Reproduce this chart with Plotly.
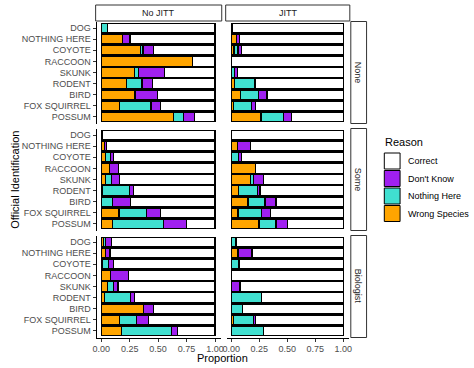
import plotly.graph_objects as go

categories = ["DOG", "NOTHING HERE", "COYOTE", "RACCOON", "SKUNK", "RODENT", "BIRD", "FOX SQUIRREL", "POSSUM"]
conditions = ["No JITT", "JITT"]
expertise = ["None", "Some", "Biologist"]
x_ticks = [0, 0.25, 0.5, 0.75, 1.0]
x_tick_labels = ["0.00", "0.25", "0.50", "0.75", "1.00"]

# None expertise
none_nojitt_wrong = [0, 0.19, 0.345, 0.80, 0.29, 0.222, 0.297, 0.163, 0.633]
none_nojitt_nothing = [0.058, 0, 0.023, 0, 0.041, 0.137, 0, 0.274, 0.09]
none_nojitt_dk = [0, 0.064, 0.093, 0, 0.224, 0.09, 0.195, 0.082, 0.093]
none_jitt_wrong = [0, 0.046, 0.026, 0, 0, 0.032, 0.081, 0.02, 0.267]
none_jitt_nothing = [0.012, 0, 0.035, 0, 0.029, 0.174, 0.16, 0.165, 0.2]
none_jitt_dk = [0, 0.03, 0.029, 0, 0.029, 0.01, 0.078, 0.035, 0.072]
# Some expertise
some_nojitt_wrong = [0, 0.032, 0.038, 0.073, 0.041, 0.015, 0, 0.157, 0.096]
some_nojitt_nothing = [0.015, 0, 0.044, 0, 0.047, 0.236, 0.099, 0.239, 0.452]
some_nojitt_dk = [0, 0.012, 0.029, 0.079, 0.076, 0.035, 0.16, 0.122, 0.204]
some_jitt_wrong = [0, 0.058, 0, 0.214, 0.171, 0.067, 0.151, 0.061, 0.249]
some_jitt_nothing = [0, 0, 0.064, 0, 0.029, 0.171, 0.151, 0.209, 0.151]
some_jitt_dk = [0, 0.113, 0.026, 0, 0.087, 0.02, 0.099, 0.081, 0.104]
# Biologist
bio_nojitt_wrong = [0.02, 0.035, 0.008, 0.084, 0.058, 0.026, 0.371, 0.16, 0.177]
bio_nojitt_nothing = [0.018, 0, 0.058, 0, 0.052, 0.229, 0, 0.15, 0.44]
bio_nojitt_dk = [0.05, 0.043, 0.04, 0.154, 0.038, 0.038, 0.09, 0.107, 0.055]
bio_jitt_wrong = [0, 0.061, 0, 0, 0, 0, 0, 0.02, 0]
bio_jitt_nothing = [0.044, 0, 0.07, 0, 0, 0.27, 0.1, 0.18, 0.286]
bio_jitt_dk = [0, 0.125, 0, 0, 0.079, 0, 0, 0.02, 0]

panels = {
    ("None", "No JITT"): (none_nojitt_wrong, none_nojitt_nothing, none_nojitt_dk),
    ("None", "JITT"): (none_jitt_wrong, none_jitt_nothing, none_jitt_dk),
    ("Some", "No JITT"): (some_nojitt_wrong, some_nojitt_nothing, some_nojitt_dk),
    ("Some", "JITT"): (some_jitt_wrong, some_jitt_nothing, some_jitt_dk),
    ("Biologist", "No JITT"): (bio_nojitt_wrong, bio_nojitt_nothing, bio_nojitt_dk),
    ("Biologist", "JITT"): (bio_jitt_wrong, bio_jitt_nothing, bio_jitt_dk),
}

reasons = ["Wrong Species", "Nothing Here", "Don't Know", "Correct"]
colors = {"Correct": "#FFFFFF", "Don't Know": "#A020F0", "Nothing Here": "#40E0D0", "Wrong Species": "#FFA500"}
legend_order = ["Correct", "Don't Know", "Nothing Here", "Wrong Species"]

W, H = 474, 368
FONT = "Liberation Sans, Arial, sans-serif"

def px_x(p):
    return p / W

def px_y(p):
    return 1 - p / H

col_dom = [(94, 220), (226, 350)]
row_dom = [(21.5, 123.5), (128.5, 230.5), (235.5, 337.5)]

fig = go.Figure()
layout = {}
idx = 0
for r, ex in enumerate(expertise):
    for c, cond in enumerate(conditions):
        idx += 1
        xa = "x" if idx == 1 else f"x{idx}"
        ya = "y" if idx == 1 else f"y{idx}"
        wrong, nothing, dk = panels[(ex, cond)]
        correct = [max(0.0, 1 - a - b - d) for a, b, d in zip(wrong, nothing, dk)]
        vals = {"Wrong Species": wrong, "Nothing Here": nothing, "Don't Know": dk, "Correct": correct}
        for reason in reasons:
            v = [val if val > 0 else None for val in vals[reason]]
            fig.add_trace(go.Bar(
                x=v, y=categories, orientation="h", xaxis=xa, yaxis=ya,
                marker=dict(color=colors[reason], line=dict(color="black", width=1.2)),
                name=reason, showlegend=False, hoverinfo="skip",
            ))
        bottom = (r == len(expertise) - 1)
        left = (c == 0)
        layout["xaxis" if idx == 1 else f"xaxis{idx}"] = dict(
            domain=[px_x(col_dom[c][0]), px_x(col_dom[c][1])],
            anchor=ya, range=[-0.04, 1.05],
            tickvals=x_ticks, ticktext=x_tick_labels,
            showticklabels=bottom, showline=bottom, linecolor="black", linewidth=1,
            ticks="outside" if bottom else "", ticklen=3, tickcolor="#333333",
            showgrid=False, zeroline=False,
            tickfont=dict(family=FONT, size=9, color="#4D4D4D"),
        )
        layout["yaxis" if idx == 1 else f"yaxis{idx}"] = dict(
            domain=[px_y(row_dom[r][1]), px_y(row_dom[r][0])],
            anchor=xa, type="category", categoryorder="array", categoryarray=categories,
            range=[8.6, -0.6],
            showticklabels=left, showline=left, linecolor="black", linewidth=1,
            ticks="outside" if left else "", ticklen=3, tickcolor="#333333",
            showgrid=False, zeroline=False,
            tickfont=dict(family=FONT, size=9, color="#4D4D4D"),
        )

shapes = []
annotations = []
# top strips
for c, cond in enumerate(conditions):
    x0, x1 = col_dom[c]
    shapes.append(dict(type="rect", xref="paper", yref="paper",
                       x0=px_x(x0 - 1), x1=px_x(x1 + 1), y0=px_y(21), y1=px_y(5),
                       line=dict(color="#333333", width=1), fillcolor="white"))
    annotations.append(dict(xref="paper", yref="paper", x=px_x((x0 + x1) / 2), y=px_y(13),
                            text=cond, showarrow=False, xanchor="center", yanchor="middle",
                            font=dict(family=FONT, size=9, color="#1A1A1A")))
# right strips
for r, ex in enumerate(expertise):
    y0, y1 = row_dom[r]
    shapes.append(dict(type="rect", xref="paper", yref="paper",
                       x0=px_x(352), x1=px_x(368), y0=px_y(y1), y1=px_y(y0),
                       line=dict(color="#333333", width=1), fillcolor="white"))
    annotations.append(dict(xref="paper", yref="paper", x=px_x(360), y=px_y((y0 + y1) / 2),
                            text=ex, showarrow=False, textangle=90, xanchor="center", yanchor="middle",
                            font=dict(family=FONT, size=9, color="#1A1A1A")))

# axis titles
annotations.append(dict(xref="paper", yref="paper", x=px_x(222), y=px_y(358), text="Proportion",
                        showarrow=False, xanchor="center", yanchor="middle",
                        font=dict(family=FONT, size=11, color="black")))
annotations.append(dict(xref="paper", yref="paper", x=px_x(11), y=px_y(180), text="Official Identification",
                        showarrow=False, textangle=-90, xanchor="center", yanchor="middle",
                        font=dict(family=FONT, size=11, color="black")))

# legend (drawn manually)
annotations.append(dict(xref="paper", yref="paper", x=px_x(385), y=px_y(142), text="Reason",
                        showarrow=False, xanchor="left", yanchor="middle",
                        font=dict(family=FONT, size=11, color="black")))
for i, name in enumerate(legend_order):
    top = 153 + i * 17.5
    shapes.append(dict(type="rect", xref="paper", yref="paper",
                       x0=px_x(386), x1=px_x(402), y0=px_y(top + 16), y1=px_y(top),
                       line=dict(color="black", width=1), fillcolor=colors[name]))
    annotations.append(dict(xref="paper", yref="paper", x=px_x(408), y=px_y(top + 8), text=name,
                            showarrow=False, xanchor="left", yanchor="middle",
                            font=dict(family=FONT, size=9, color="black")))

fig.update_layout(
    width=W, height=H, margin=dict(l=0, r=0, t=0, b=0),
    paper_bgcolor="white", plot_bgcolor="white",
    barmode="stack", bargap=0.14, showlegend=False,
    shapes=shapes, annotations=annotations,
    font=dict(family=FONT), hovermode=False,
    **layout,
)

fig.write_html("out.html", config={"displayModeBar": False},
               post_script="document.body.style.margin='0px';document.body.style.padding='0px';")
